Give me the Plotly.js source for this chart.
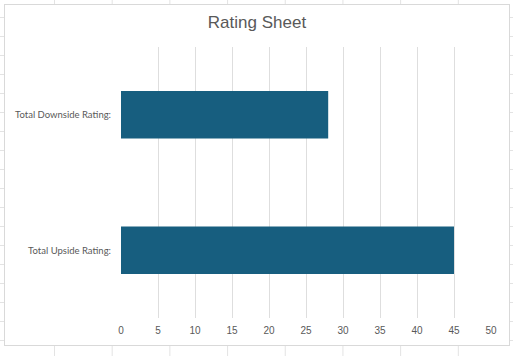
<!DOCTYPE html>
<html>
<head>
<meta charset="utf-8">
<script src="https://cdn.plot.ly/plotly-3.0.1.min.js"></script>
<style>
html, body { margin: 0; padding: 0; width: 513px; height: 356px; overflow: hidden; background: #fff; }
body {
  background-image: linear-gradient(to right, #e3e3e3 1px, transparent 1px),
                    linear-gradient(to bottom, #e3e3e3 1px, transparent 1px);
  background-size: 57.7px 19px;
  background-position: 54px 17px;
}
#chart { position: absolute; left: 5px; top: 5px; width: 504px; height: 340px; background: #fff; outline: 1px solid #d9d9d9; }
</style>
</head>
<body>
<div id="chart"></div>
<script>
const categories = ["Total Upside Rating:", "Total Downside Rating:"];
const ratings = [45, 28];
const xTicks = [0, 5, 10, 15, 20, 25, 30, 35, 40, 45, 50];

const trace = {
  type: "bar",
  orientation: "h",
  y: categories,
  x: ratings,
  width: 0.35,
  marker: { color: "#175E7F" },
  hoverinfo: "x+y"
};

const layout = {
  width: 504,
  height: 340,
  margin: { l: 116, r: 18, t: 42, b: 27 },
  paper_bgcolor: "#ffffff",
  plot_bgcolor: "#ffffff",
  showlegend: false,
  title: {
    text: "Rating Sheet",
    x: 0.5,
    xanchor: "center",
    y: 0.95,
    yanchor: "middle",
    font: { family: "Liberation Sans, Arial, sans-serif", size: 17, color: "#595959" }
  },
  xaxis: {
    range: [0, 50],
    tickvals: xTicks,
    ticktext: xTicks.map(String),
    showgrid: true,
    gridcolor: "#dedede",
    gridwidth: 1,
    zeroline: false,
    showline: false,
    ticks: "",
    ticklabelstandoff: 5,
    automargin: false,
    tickfont: { family: "Liberation Sans, Arial, sans-serif", size: 10, color: "#595959" }
  },
  yaxis: {
    categoryorder: "array",
    categoryarray: categories,
    range: [-0.5, 1.5],
    showgrid: false,
    zeroline: false,
    showline: false,
    ticks: "",
    ticklabelstandoff: 9,
    automargin: false,
    tickfont: { family: "Lato, Open Sans, sans-serif", size: 9.5, color: "#595959" }
  },
  bargap: 0.65
};

Plotly.newPlot("chart", [trace], layout, { displayModeBar: false, staticPlot: true });
</script>
</body>
</html>
